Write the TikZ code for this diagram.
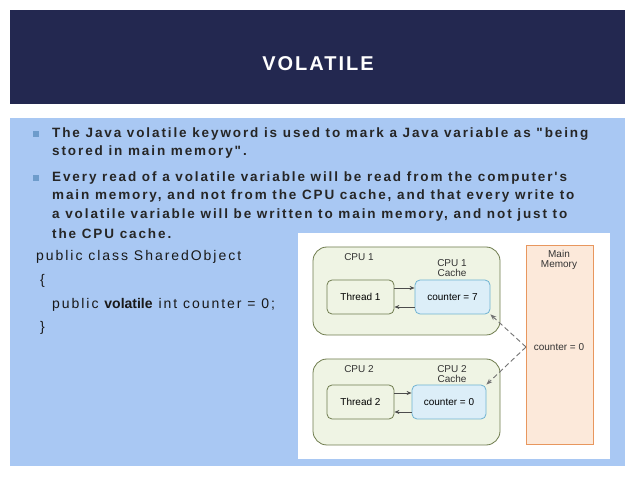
\documentclass[tikz,border=0pt]{standalone}
\usepackage{fontspec}
\setmainfont{Liberation Sans}
\newfontfamily\bodyf{Liberation Sans}[LetterSpace=14]
\newfontfamily\titlef{Liberation Sans}[LetterSpace=10]
\usetikzlibrary{arrows.meta}
\definecolor{navy}{HTML}{232850}
\definecolor{panel}{HTML}{A9C8F3}
\definecolor{cpuf}{HTML}{EFF4E4}
\definecolor{cpud}{HTML}{6F7C4E}
\definecolor{cachef}{HTML}{DCEEF8}
\definecolor{cached}{HTML}{6FB3D2}
\definecolor{memf}{HTML}{FCE9DA}
\definecolor{memd}{HTML}{E8975E}
\definecolor{bul}{HTML}{6E9CCB}
\begin{document}
\begin{tikzpicture}[x=1pt,y=-1pt,
  body/.style={anchor=west,inner sep=0,font=\bodyf\bfseries\fontsize{13.5}{15}\selectfont,text=black!85},
  code/.style={anchor=west,inner sep=0,font=\bodyf\fontsize{14}{15}\selectfont,text=black!90},
  cpu/.style={draw=cpud,fill=cpuf,rounded corners=14,line width=0.8},
  thr/.style={draw=cpud,fill=cpuf,rounded corners=5,line width=0.8,font=\fontsize{10}{11}\selectfont},
  cache/.style={draw=cached,fill=cachef,rounded corners=5,line width=0.8,font=\fontsize{10}{11}\selectfont},
  lbl/.style={font=\fontsize{10}{10.5}\selectfont,align=center,text=black!80,inner sep=0},
  sm/.style={-{Stealth[length=5pt,width=4pt]},draw=black!70,line width=0.8},
  dsh/.style={-{Stealth[length=6pt]},draw=black!55,dash pattern=on 5pt off 3pt,line width=0.9}]
\useasboundingbox (0,0) rectangle (638,478);
\fill[white] (0,0) rectangle (638,478);
\fill[navy] (10,10) rectangle (625,104);
\node[font=\titlef\bfseries\fontsize{20}{22}\selectfont,text=white] (title) at (318,64) {VOLATILE};
\fill[panel] (10,118) rectangle (625,466);
\foreach \y in {134,178} \fill[bul] (33,\y-3) rectangle (39,\y+3);
\node[body] (l1) at (52,134) {The Java volatile keyword is used to mark a Java variable as "being};
\node[body] (l2) at (52,152) {stored in main memory".};
\node[body] (l3) at (52,178) {Every read of a volatile variable will be read from the computer's};
\node[body] (l4) at (52,196) {main memory, and not from the CPU cache, and that every write to};
\node[body] (l5) at (52,215) {a volatile variable will be written to main memory, and not just to};
\node[body] (l6) at (52,234) {the CPU cache.};
\node[code] (c1) at (36,257) {public class SharedObject};
\node[code] (c2) at (40,281) {\{};
\node[code] (c3) at (52,305) {public {\fontspec{Liberation Sans Bold}volatile} int counter = 0;};
\node[code] (c4) at (40,328) {\}};
\fill[white] (298,233) rectangle (610,459);
\draw[cpu] (313,247) rectangle (500,335);
\draw[cpu] (313,359) rectangle (500,445);
\draw[memd,fill=memf,line width=1] (526,246) rectangle (593,445);
\node[thr,minimum width=67,minimum height=34] (t1) at (360.5,297) {Thread 1};
\node[cache,minimum width=75,minimum height=34] (k1) at (452.5,297) {counter = 7};
\node[thr,minimum width=67,minimum height=34] (t2) at (360.5,402) {Thread 2};
\node[cache,minimum width=74,minimum height=34] (k2) at (449,402) {counter = 0};
\node[lbl] (p1) at (359,257) {CPU 1};
\node[lbl] (p1c) at (452,268) {CPU 1\\Cache};
\node[lbl] (p2) at (359,369) {CPU 2};
\node[lbl] (p2c) at (452,374) {CPU 2\\Cache};
\node[lbl] (mm) at (559,260) {Main\\Memory};
\node[lbl] (mc) at (559,347) {counter = 0};
\coordinate (mp) at (526,347);
\draw[sm] (t1.east|-0,288) -- (k1.west|-0,288);
\draw[sm] (k1.west|-0,307) -- (t1.east|-0,307);
\draw[sm] (t2.east|-0,393) -- (k2.west|-0,393);
\draw[sm] (k2.west|-0,412) -- (t2.east|-0,412);
\draw[dsh] (mp) -- (k1.south east);
\draw[dsh] (mp) -- (k2.north east);
\end{tikzpicture}
\end{document}
